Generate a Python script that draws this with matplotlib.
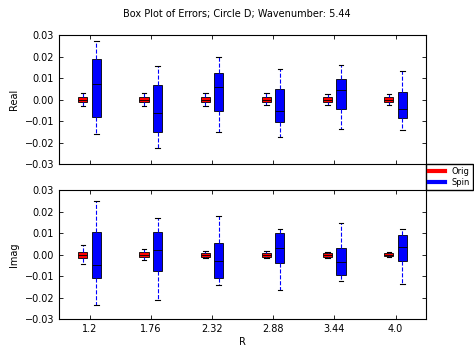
import matplotlib
matplotlib.use("Agg")
import matplotlib.pyplot as plt
from matplotlib.lines import Line2D

r_labels = ["1.2", "1.76", "2.32", "2.88", "3.44", "4.0"]

# each list: [whislo, q1, median, q3, whishi]
real_orig = [
    [-0.0030, -0.0010, 0.0000, 0.0011, 0.0031],
    [-0.0032, -0.0010, 0.0000, 0.0011, 0.0031],
    [-0.0030, -0.0010, 0.0000, 0.0011, 0.0031],
    [-0.0027, -0.0010, 0.0000, 0.0010, 0.0029],
    [-0.0024, -0.0010, 0.0000, 0.0010, 0.0026],
    [-0.0024, -0.0010, 0.0000, 0.0010, 0.0026],
]
real_spin = [
    [-0.0162, -0.0083, 0.0072, 0.0191, 0.0275],
    [-0.0224, -0.0150, -0.0064, 0.0066, 0.0156],
    [-0.0151, -0.0055, 0.0060, 0.0123, 0.0199],
    [-0.0176, -0.0103, -0.0052, 0.0049, 0.0143],
    [-0.0137, -0.0043, 0.0044, 0.0094, 0.0162],
    [-0.0143, -0.0086, -0.0043, 0.0036, 0.0132],
]
imag_orig = [
    [-0.0045, -0.0017, 0.0000, 0.0014, 0.0043],
    [-0.0025, -0.0011, 0.0000, 0.0012, 0.0025],
    [-0.0014, -0.0011, 0.0000, 0.0008, 0.0015],
    [-0.0014, -0.0010, 0.0000, 0.0010, 0.0015],
    [-0.0014, -0.0010, 0.0000, 0.0010, 0.0014],
    [-0.0012, -0.0008, 0.0000, 0.0006, 0.0012],
]
imag_spin = [
    [-0.0233, -0.0107, -0.0050, 0.0105, 0.0250],
    [-0.0209, -0.0076, 0.0023, 0.0107, 0.0172],
    [-0.0140, -0.0107, -0.0030, 0.0054, 0.0181],
    [-0.0163, -0.0039, 0.0031, 0.0102, 0.0121],
    [-0.0122, -0.0096, -0.0033, 0.0031, 0.0147],
    [-0.0135, -0.0029, 0.0037, 0.0093, 0.0121],
]

plt.rcParams["font.size"] = 7
plt.rcParams["xtick.direction"] = "in"
plt.rcParams["ytick.direction"] = "in"
plt.rcParams["xtick.top"] = True
plt.rcParams["ytick.right"] = True
plt.rcParams["axes.linewidth"] = 0.8


def to_stats(rows):
    stats = []
    for lo, q1, med, q3, hi in rows:
        stats.append(dict(whislo=lo, q1=q1, med=med, q3=q3, whishi=hi, fliers=[]))
    return stats


def draw_boxes(ax, rows, positions, color):
    ax.bxp(to_stats(rows), positions=positions, widths=0.15, patch_artist=True,
           showfliers=False, manage_ticks=False,
           boxprops=dict(facecolor=color, edgecolor="black", linewidth=0.6),
           whiskerprops=dict(color="blue", linestyle="--", linewidth=0.8),
           capprops=dict(color="black", linewidth=0.8),
           medianprops=dict(color="black", linewidth=0.6))


fig = plt.figure(figsize=(4.74, 3.55), dpi=100)
ax1 = fig.add_axes([0.1245, 0.538, 0.7745, 0.363])
ax2 = fig.add_axes([0.1245, 0.101, 0.7745, 0.363])

pos = list(range(1, len(r_labels) + 1))
for ax, orig, spin, name in [(ax1, real_orig, real_spin, "Real"),
                             (ax2, imag_orig, imag_spin, "Imag")]:
    draw_boxes(ax, orig, [p - 0.11 for p in pos], "red")
    draw_boxes(ax, spin, [p + 0.11 for p in pos], "blue")
    ax.set_xlim(0.5, 6.5)
    ax.set_ylim(-0.03, 0.03)
    ax.set_yticks([-0.03, -0.02, -0.01, 0.0, 0.01, 0.02, 0.03])
    ax.set_xticks(pos)
    ax.set_ylabel(name)
    ax.tick_params(length=3, width=0.6)

ax1.set_xticklabels([])
ax2.set_xticklabels(r_labels)
ax2.set_xlabel("R", labelpad=2)

handles = [Line2D([], [], color="red", lw=3), Line2D([], [], color="blue", lw=3)]
ax1.legend(handles, ["Orig", "Spin"], loc="upper left", bbox_to_anchor=(1.0, 0.0),
           fontsize=6, fancybox=False, edgecolor="black", framealpha=1,
           handlelength=2, borderpad=0.3, labelspacing=0.3, borderaxespad=0)

fig.suptitle("Box Plot of Errors; Circle D; Wavenumber: 5.44", y=0.975, fontsize=7)
fig.savefig("out.png", dpi=100)
